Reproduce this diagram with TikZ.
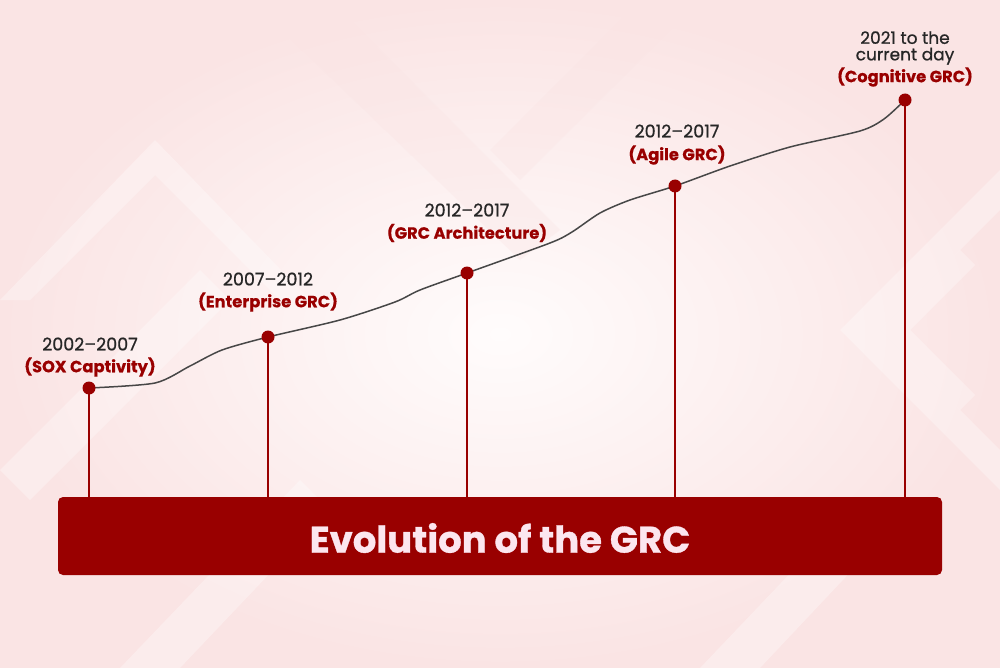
\documentclass[tikz,border=0pt]{standalone}
\usepackage{fontspec}
\setmainfont{Poppins}
\newfontfamily\yearfont{Poppins}[FakeBold=0.8]
\newfontfamily\phasefont{Poppins Bold}[FakeBold=0.4]
\newfontfamily\titlefont{Poppins Bold}[FakeBold=0.9]
\usetikzlibrary{shadings}
\definecolor{grcred}{HTML}{990000}
\definecolor{txtgray}{HTML}{262626}
\definecolor{bgpink}{HTML}{FAE4E4}
\definecolor{bgwhite}{HTML}{FFFCFC}
\definecolor{titlepink}{HTML}{FCE6EF}
\begin{document}
\begin{tikzpicture}[x=1pt,y=-1pt,
  yearlbl/.style={font=\yearfont\fontsize{17.5}{18}\selectfont, text=txtgray, inner sep=0pt, align=center},
  phaselbl/.style={font=\phasefont\fontsize{16.3}{18}\selectfont, text=grcred, inner sep=0pt},
  dotnode/.style={circle, fill=grcred, minimum size=13pt, inner sep=0pt},
  stem/.style={draw=grcred, line width=1.5pt},
  curve/.style={draw=txtgray!85!white, line width=1.5pt, line cap=round},
  band/.style={fill=white, opacity=0.3},
  bandpink/.style={fill=bgpink, opacity=0.35}]
\useasboundingbox (0,0) rectangle (1000,668);
% background
\shade[inner color=bgwhite, outer color=bgpink] (0,0) rectangle (1000,668);
% faint chevron bands
\fill[band] (0,300) -- (155,140) -- (310,300) -- (280,300) -- (155,175) -- (30,300) -- cycle;
\fill[band] (0,470) -- (200,270) -- (230,300) -- (30,500) -- cycle;
\fill[band] (1000,170) -- (840,330) -- (1000,490) -- (1000,450) -- (880,330) -- (1000,210) -- cycle;
\fill[band] (960,250) -- (880,330) -- (960,410) -- (975,395) -- (910,330) -- (975,265) -- cycle;
\fill[bandpink] (250,0) -- (330,0) -- (560,230) -- (520,260) -- cycle;
\fill[bandpink] (640,0) -- (700,0) -- (520,180) -- (490,150) -- cycle;
\fill[band] (120,668) -- (300,480) -- (330,510) -- (180,668) -- cycle;
\fill[band] (700,668) -- (860,500) -- (890,530) -- (760,668) -- cycle;
% bar
\node[fill=grcred, rounded corners=5pt, minimum width=884pt, minimum height=78pt, inner sep=0pt] (bar) at (500,536) {};
\node[font=\titlefont\fontsize{37}{40}\selectfont, text=titlepink, inner sep=0pt] (title) at (500,538) {Evolution of the GRC};
% dots
\coordinate (d1) at (89,388);
\coordinate (d2) at (268,337);
\coordinate (d3) at (467,273);
\coordinate (d4) at (675,186);
\coordinate (d5) at (905,100);
% curve
\draw[curve] plot[smooth, tension=0.45] coordinates {(d1) (155,383) (190,366) (222,350) (268,337) (340,320) (395,302) (420,290) (467,273) (550,243) (572,232) (600,213) (630,200) (675,186) (730,166) (790,147) (860,131) (884,119) (905,100)};
% stems and dots
\foreach \i in {1,...,5} {
  \draw[stem] (d\i) -- (d\i |- bar.north);
  \node[dotnode] (dot\i) at (d\i) {};
}
% labels
\node[yearlbl] (y1) at (90,344) {2002–2007};
\node[phaselbl] (p1) at (90,367) {(SOX Captivity)};
\node[yearlbl] (y2) at (268,279) {2007–2012};
\node[phaselbl] (p2) at (268,302) {(Enterprise GRC)};
\node[yearlbl] (y3) at (467,210) {2012–2017};
\node[phaselbl] (p3) at (467,233) {(GRC Architecture)};
\node[yearlbl] (y4) at (677,131) {2012–2017};
\node[phaselbl] (p4) at (677,155) {(Agile GRC)};
\node[yearlbl, font=\yearfont\fontsize{17}{16.5}\selectfont] (y5) at (905,48) {2021 to the\\current day};
\node[phaselbl] (p5) at (905,77) {(Cognitive GRC)};
\end{tikzpicture}
\end{document}
